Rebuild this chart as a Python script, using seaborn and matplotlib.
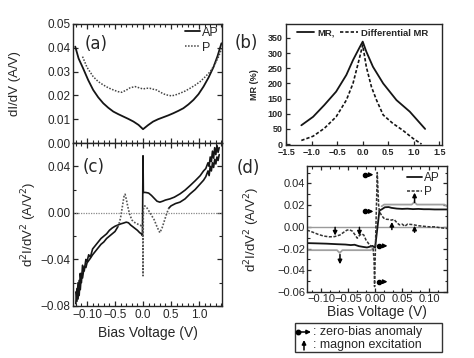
import numpy as np
import pandas as pd
import matplotlib
matplotlib.use("Agg")
import matplotlib.pyplot as plt
import matplotlib.patches as mpatches
import seaborn as sns
from matplotlib.ticker import MultipleLocator
from matplotlib.lines import Line2D

sns.set_theme(style="ticks")
plt.rcParams['font.family'] = ['Liberation Sans', 'DejaVu Sans']
plt.rcParams['axes.linewidth'] = 1.0

# ---------------- data ----------------
# (a) dI/dV
a_ap_v = [-1.21, -1.15, -1.07, -0.98, -0.89, -0.80, -0.71, -0.62, -0.53, -0.44, -0.35, -0.26, -0.17, -0.08, 0.0,
          0.09, 0.18, 0.27, 0.36, 0.45, 0.54, 0.63, 0.72, 0.81, 0.90, 0.99, 1.08, 1.17, 1.26, 1.33, 1.40]
a_ap = [0.0405, 0.0355, 0.0314, 0.0265, 0.0223, 0.0192, 0.0167, 0.0148, 0.0132, 0.0121, 0.0111, 0.0101, 0.0090, 0.0076, 0.0058,
        0.0075, 0.0090, 0.0100, 0.0108, 0.0116, 0.0125, 0.0135, 0.0146, 0.0162, 0.0181, 0.0205, 0.0237, 0.0275, 0.0320, 0.0365, 0.0419]
a_p_v = [-1.08, -1.0, -0.89, -0.80, -0.71, -0.62, -0.53, -0.45, -0.38, -0.30, -0.23, -0.14, -0.07, 0.0, 0.06, 0.12, 0.18,
         0.24, 0.30, 0.36, 0.42, 0.51, 0.58, 0.66, 0.75, 0.84, 0.93, 1.02, 1.11, 1.20, 1.28, 1.35, 1.40]
a_p = [0.0363, 0.0318, 0.0279, 0.0258, 0.0244, 0.0232, 0.0223, 0.0216, 0.0213, 0.0222, 0.0232, 0.0237, 0.0232, 0.0227, 0.0230, 0.0230, 0.0226,
       0.0223, 0.0215, 0.0207, 0.0202, 0.0198, 0.0202, 0.0209, 0.0218, 0.0230, 0.0243, 0.0258, 0.0278, 0.0300, 0.0330, 0.0363, 0.0395]

# (b) MR
b_mr_v = [-1.2, -0.97, -0.75, -0.52, -0.32, -0.19, -0.07, 0.0, 0.07, 0.2, 0.4, 0.66, 0.92, 1.22]
b_mr = [62, 90, 129, 173, 228, 277, 316, 338, 305, 255, 200, 145, 107, 50]
b_dmr_v = [-1.2, -0.97, -0.75, -0.52, -0.32, -0.19, -0.09, 0.0, 0.07, 0.17, 0.27, 0.4, 0.59, 0.78, 0.98, 1.15]
b_dmr = [12, 26, 52, 90, 145, 200, 266, 327, 255, 189, 145, 96, 68, 46, 19, 0]

# (c) d2I/dV2 wide range
c_ap_v = [-1.20, -1.18, -1.16, -1.14, -1.12, -1.10, -1.08, -1.05, -1.02, -1.00, -0.97, -0.94, -0.90, -0.85, -0.80, -0.75,
          -0.70, -0.65, -0.60, -0.55, -0.50, -0.45, -0.40, -0.35, -0.30, -0.26, -0.22, -0.18, -0.14, -0.10, -0.06, -0.03,
          -0.01, 0.0, 0.006, 0.05, 0.10, 0.15, 0.20, 0.25, 0.30, 0.35, 0.40, 0.48, 0.56, 0.66, 0.75, 0.84, 0.93, 1.02,
          1.08, 1.12, 1.16, 1.18, 1.20, 1.22, 1.24, 1.26, 1.28, 1.30, 1.32, 1.34, 1.36]
c_ap = [-0.068, -0.076, -0.060, -0.071, -0.052, -0.060, -0.045, -0.050, -0.040, -0.042, -0.036, -0.038, -0.031, -0.028, -0.025, -0.022,
        -0.020, -0.018, -0.015, -0.013, -0.0115, -0.0105, -0.0095, -0.0088, -0.0080, -0.0085, -0.0105, -0.0120, -0.0135, -0.0150, -0.0170, -0.0180,
        -0.0195, 0.049, 0.0176, 0.0175, 0.0170, 0.0150, 0.0125, 0.0100, 0.0092, 0.0100, 0.0110, 0.0120, 0.0135, 0.0163, 0.0195, 0.0234, 0.0275, 0.0319,
        0.036, 0.038, 0.043, 0.040, 0.048, 0.044, 0.053, 0.047, 0.056, 0.050, 0.058, 0.052, 0.056]
c_p_v = [-1.20, -1.18, -1.16, -1.14, -1.12, -1.10, -1.08, -1.05, -1.02, -1.00, -0.97, -0.94, -0.90, -0.85, -0.80, -0.75,
         -0.70, -0.65, -0.60, -0.55, -0.50, -0.45, -0.42, -0.40, -0.37, -0.34, -0.32, -0.30, -0.27, -0.24, -0.20, -0.16,
         -0.12, -0.08, -0.04, -0.02, -0.005, 0.0, 0.005, 0.03, 0.06, 0.10, 0.15, 0.20, 0.25, 0.30, 0.34, 0.38, 0.42, 0.46,
         0.50, 0.58, 0.66, 0.75, 0.84, 0.93, 1.02, 1.08, 1.12, 1.16, 1.18, 1.20, 1.22, 1.24, 1.26, 1.28, 1.30, 1.32, 1.34, 1.36]
c_p = [-0.078, -0.065, -0.074, -0.058, -0.066, -0.052, -0.056, -0.046, -0.047, -0.043, -0.041, -0.039, -0.036, -0.033, -0.030, -0.027,
       -0.025, -0.022, -0.020, -0.018, -0.016, -0.012, -0.008, -0.004, 0.005, 0.014, 0.016, 0.012, 0.005, -0.001, -0.006, -0.008,
       -0.009, -0.010, -0.011, -0.010, -0.012, -0.054, 0.003, 0.006, 0.005, 0.002, -0.002, -0.006, -0.012, -0.017, -0.013, -0.007, -0.001, 0.004,
       0.006, 0.008, 0.0092, 0.012, 0.0163, 0.020, 0.0248, 0.028, 0.031, 0.036, 0.032, 0.040, 0.036, 0.043, 0.039, 0.046, 0.042, 0.048, 0.045, 0.050]

# (d) d2I/dV2 low bias
d_ap_v = [-0.125, -0.11, -0.09, -0.07, -0.055, -0.045, -0.038, -0.03, -0.022, -0.015, -0.009, -0.005, -0.002, 0.0,
          0.004, 0.008, 0.012, 0.018, 0.025, 0.030, 0.040, 0.050, 0.060, 0.070, 0.080, 0.090, 0.100, 0.110, 0.120, 0.133]
d_ap = [-0.0150, -0.0152, -0.0155, -0.0160, -0.0163, -0.0168, -0.0165, -0.0178, -0.0185, -0.0190, -0.0182, -0.0175, -0.0185, -0.0190,
        -0.0020, 0.0150, 0.0160, 0.0180, 0.0182, 0.0175, 0.0168, 0.0165, 0.0167, 0.0163, 0.0165, 0.0162, 0.0162, 0.0160, 0.0160, 0.0160]
d_p_v = [-0.126, -0.115, -0.105, -0.095, -0.085, -0.075, -0.065, -0.058, -0.052, -0.047, -0.042, -0.037, -0.033, -0.029, -0.025,
         -0.021, -0.017, -0.012, -0.008, -0.004, -0.002, -0.001, 0.0015, 0.004, 0.0065, 0.008, 0.012, 0.016, 0.020, 0.025, 0.030,
         0.035, 0.040, 0.045, 0.050, 0.055, 0.060, 0.070, 0.080, 0.090, 0.100, 0.110, 0.120, 0.133]
d_p = [-0.0030, -0.0050, -0.0070, -0.0085, -0.0092, -0.0090, -0.0075, -0.0050, -0.0030, -0.0028, -0.0040, -0.0075, -0.0105, -0.0080, -0.0065,
       -0.0075, -0.0120, -0.0155, -0.0175, -0.0190, -0.0300, -0.0550, 0.0000, 0.0500, 0.0200, 0.0140, 0.0105, 0.0080, 0.0070, 0.0068, 0.0062,
       0.0068, 0.0040, 0.0018, 0.0025, 0.0005, 0.0025, 0.0020, 0.0010, 0.0005, 0.0000, 0.0000, -0.0008, -0.0015]

# ---------------- figure ----------------
W, H = 474, 358
fig = plt.figure(figsize=(W / 100, H / 100), dpi=100)


def box(l, r, t, b):
    return [l / W, 1 - b / H, (r - l) / W, (b - t) / H]


axa = fig.add_axes(box(73, 222, 24, 143))
axc = fig.add_axes(box(73, 222, 143, 306))
axb = fig.add_axes(box(286, 442, 24, 145))
axd = fig.add_axes(box(307, 447, 166, 292))

BLK = '#151515'

# (a)
sns.lineplot(x=a_ap_v, y=a_ap, ax=axa, color=BLK, lw=1.3, sort=False, estimator=None)
sns.lineplot(x=a_p_v, y=a_p, ax=axa, color='#444444', lw=1.1, sort=False, estimator=None, linestyle=(0, (1, 1)))
axa.set_xlim(-1.25, 1.41)
axa.set_ylim(0, 0.05)
axa.set_yticks([0, 0.01, 0.02, 0.03, 0.04, 0.05])
axa.set_yticklabels(['0.00', '0.01', '0.02', '0.03', '0.04', '0.05'])
axa.set_xticks([-1.0, -0.5, 0, 0.5, 1.0])
axa.xaxis.set_minor_locator(MultipleLocator(0.1))
axa.tick_params(labelbottom=False)
axa.set_xlabel('')
axa.set_ylabel('dI/dV (A/V)', fontsize=9.5)
axa.yaxis.set_label_coords(-0.35, 0.5)
axa.legend([Line2D([], [], color=BLK, lw=1.3), Line2D([], [], color='#444444', lw=1.1, ls=(0, (1, 1)))],
           ['AP', 'P'], loc='upper right', bbox_to_anchor=(1.02, 1.03), frameon=False, fontsize=9,
           handlelength=1.2, handletextpad=0.15, labelspacing=0.25, borderaxespad=0.1)

# (c)
axc.axhline(0, color='#8a8a8a', lw=0.9, ls=(0, (1, 1)))
sns.lineplot(x=c_ap_v, y=c_ap, ax=axc, color=BLK, lw=1.2, sort=False, estimator=None)
cp = pd.DataFrame({'V': c_p_v, 'y': c_p})
left = cp[cp.V <= -0.45]
mid = cp[(cp.V >= -0.45) & (cp.V <= 0.46)]
right = cp[cp.V >= 0.46]
sns.lineplot(data=left, x='V', y='y', ax=axc, color=BLK, lw=1.2, sort=False, estimator=None)
sns.lineplot(data=right, x='V', y='y', ax=axc, color=BLK, lw=1.2, sort=False, estimator=None)
sns.lineplot(data=mid, x='V', y='y', ax=axc, color='#555555', lw=1.2, sort=False, estimator=None, linestyle=(0, (1, 1)))
axc.set_xlim(-1.25, 1.41)
axc.set_ylim(-0.08, 0.06)
axc.set_yticks([-0.08, -0.04, 0.0, 0.04])
axc.set_yticklabels(['\u22120.08', '\u22120.04', '0.00', '0.04'])
axc.yaxis.set_minor_locator(MultipleLocator(0.02))
axc.set_xticks([-1.0, -0.5, 0, 0.5, 1.0])
axc.set_xticklabels(['\u22120.10', '\u22120.5', '0.0', '0.5', '1.0'])
axc.xaxis.set_minor_locator(MultipleLocator(0.1))
axc.set_xlabel('Bias Voltage (V)', fontsize=10)
axc.xaxis.set_label_coords(0.5, -0.12)
axc.set_ylabel('d$^2$I/dV$^2$ (A/V$^2$)', fontsize=9.5)
axc.yaxis.set_label_coords(-0.225, 0.5)

for ax in (axa, axc):
    ax.tick_params(which='both', direction='in', top=True, right=True, labelsize=8.5, pad=2)
    ax.tick_params(which='major', length=3.5, width=0.9)
    ax.tick_params(which='minor', length=2, width=0.8)

# (b)
sns.lineplot(x=b_mr_v, y=b_mr, ax=axb, color=BLK, lw=1.3, sort=False, estimator=None)
sns.lineplot(x=b_dmr_v, y=b_dmr, ax=axb, color=BLK, lw=1.2, sort=False, estimator=None, linestyle=(0, (2, 1.2)))
axb.set_xlim(-1.5, 1.55)
axb.set_ylim(-3, 396)
axb.set_yticks(np.arange(0, 351, 50))
axb.set_xticks([-1.5, -1.0, -0.5, 0, 0.5, 1.0, 1.5])
axb.set_xticklabels(['\u22121.5', '\u22121.0', '\u22120.5', '0.0', '0.5', '1.0', '1.5'])
axb.tick_params(direction='in', length=3, width=0.9, labelsize=6.5)
axb.tick_params(axis='x', pad=2.5)
axb.tick_params(axis='y', pad=2.5)
for lab in axb.get_xticklabels() + axb.get_yticklabels():
    lab.set_fontweight('bold')
axb.set_ylabel('MR (%)', fontsize=6.5, fontweight='bold')
axb.yaxis.set_label_coords(-0.17, 0.5)
axb.set_xlabel('')
axb.legend([Line2D([], [], color=BLK, lw=1.3), Line2D([], [], color=BLK, lw=1.2, ls=(0, (2, 1.2)))],
           ['MR,', 'Differential MR'], loc='center', bbox_to_anchor=(0.49, 0.925), ncol=2, frameon=False,
           prop={'size': 6.8, 'weight': 'bold'}, handlelength=1.9, handletextpad=0.3, columnspacing=0.6,
           borderaxespad=0.0, borderpad=0.1)

# (d)
axd.axhline(0, color='#9a9a9a', lw=1.0)
GREY = '#a0a0a0'


def brace(ax, x0, x1, y, h, d):
    xm = (x0 + x1) / 2
    e = (x1 - x0) * 0.04
    ax.plot([x0, x0 + e, xm - e, xm, xm + e, x1 - e, x1], [y - d, y, y, y + h, y, y, y - d],
            color=GREY, lw=1.3, clip_on=True, solid_joinstyle='round')


brace(axd, 0.012, 0.133, 0.0205, 0.0022, 0.0016)
brace(axd, -0.128, -0.003, -0.0215, -0.0025, -0.002)
sns.lineplot(x=d_ap_v, y=d_ap, ax=axd, color=BLK, lw=1.3, sort=False, estimator=None)
sns.lineplot(x=d_p_v, y=d_p, ax=axd, color='#333333', lw=1.1, sort=False, estimator=None, linestyle=(0, (2, 1)))
axd.set_xlim(-0.126, 0.133)
axd.set_ylim(-0.06, 0.056)
axd.set_yticks([-0.06, -0.04, -0.02, 0.0, 0.02, 0.04])
axd.set_yticklabels(['\u22120.06', '\u22120.04', '\u22120.02', '0.00', '0.02', '0.04'])
axd.set_xticks([-0.10, -0.05, 0.0, 0.05, 0.10])
axd.set_xticklabels(['\u22120.10', '\u22120.05', '0.00', '0.05', '0.10'])
axd.xaxis.set_minor_locator(MultipleLocator(0.05 / 3))
axd.yaxis.set_minor_locator(MultipleLocator(0.01))
axd.tick_params(which='both', direction='in', top=True, right=True, labelsize=8, pad=1.5)
axd.tick_params(which='major', length=3, width=0.9)
axd.tick_params(which='minor', length=1.8, width=0.8)
axd.set_xlabel('Bias Voltage (V)', fontsize=10)
axd.xaxis.set_label_coords(0.5, -0.105)
axd.set_ylabel('d$^2$I/dV$^2$ (A/V$^2$)', fontsize=9.5)
axd.yaxis.set_label_coords(-0.32, 0.5)
axd.legend([Line2D([], [], color=BLK, lw=1.3), Line2D([], [], color='#333333', lw=1.1, ls=(0, (2, 1)))],
           ['AP', 'P'], loc='upper right', bbox_to_anchor=(0.99, 1.0), frameon=False, fontsize=8.5,
           handlelength=1.3, handletextpad=0.15, labelspacing=0.2, borderaxespad=0.1)


def arrow(ax, tail, head):
    ax.annotate('', xy=head, xytext=tail,
                arrowprops=dict(arrowstyle='-|>', color='black', lw=1.1, mutation_scale=6,
                                shrinkA=0, shrinkB=0))


def zba(ax, x0, x1, y):
    ax.annotate('', xy=(x1, y), xytext=(x0, y),
                arrowprops=dict(arrowstyle='-|>', color='black', lw=1.1, mutation_scale=6,
                                shrinkA=0, shrinkB=0))
    ax.plot([x0], [y], 'o', color='black', ms=3, clip_on=False)


# magnon excitation arrows
arrow(axd, (-0.065, -0.0255), (-0.065, -0.0345))
arrow(axd, (0.073, 0.0225), (0.073, 0.0315))
arrow(axd, (-0.074, -0.0005), (-0.074, -0.0080))
arrow(axd, (-0.029, -0.0005), (-0.029, -0.0080))
arrow(axd, (0.031, -0.0025), (0.031, 0.0045))
arrow(axd, (0.073, -0.0050), (0.073, 0.0010))
# zero-bias anomaly markers
zba(axd, -0.018, -0.003, 0.048)
zba(axd, -0.018, -0.003, 0.0142)
zba(axd, 0.008, 0.023, -0.0175)
zba(axd, 0.008, 0.023, -0.0505)

# panel labels
fig.text(96 / W, 1 - 44 / H, '(a)', fontsize=12, family='DejaVu Sans', ha='center', va='center')
fig.text(94 / W, 1 - 167 / H, '(c)', fontsize=12, family='DejaVu Sans', ha='center', va='center')
fig.text(246 / W, 1 - 43 / H, '(b)', fontsize=12, family='DejaVu Sans', ha='center', va='center')
fig.text(248 / W, 1 - 168 / H, '(d)', fontsize=12, family='DejaVu Sans', ha='center', va='center')

# key box
fig.add_artist(mpatches.Rectangle((295 / W, 1 - 352 / H), 147 / W, 29 / H, transform=fig.transFigure,
                                  fill=False, lw=1.0, ec='#333333'))
fig.text(313 / W, 1 - 332 / H, ': zero-bias anomaly', fontsize=9, ha='left', va='center')
fig.text(313 / W, 1 - 345 / H, ': magnon excitation', fontsize=9, ha='left', va='center')
fig.add_artist(Line2D([298 / W], [1 - 332 / H], marker='o', ms=3.2, color='black', transform=fig.transFigure))
fig.add_artist(mpatches.FancyArrowPatch((298 / W, 1 - 332 / H), (311 / W, 1 - 332 / H),
                                        transform=fig.transFigure, arrowstyle='-|>',
                                        mutation_scale=6, lw=1.1, color='black', shrinkA=0, shrinkB=0))
fig.add_artist(mpatches.FancyArrowPatch((304 / W, 1 - 350 / H), (304 / W, 1 - 340 / H),
                                        transform=fig.transFigure, arrowstyle='-|>',
                                        mutation_scale=6, lw=1.1, color='black', shrinkA=0, shrinkB=0))

fig.savefig('out.png', dpi=100, facecolor='white')
